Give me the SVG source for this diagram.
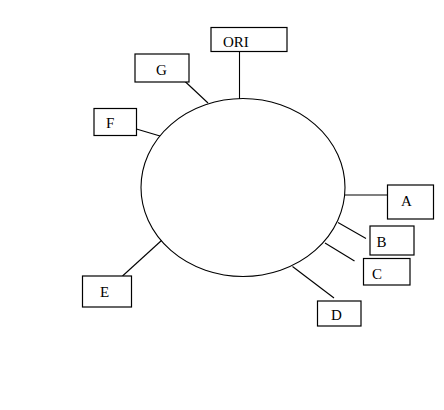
<svg xmlns="http://www.w3.org/2000/svg" width="444" height="410" viewBox="0 0 444 410">
<style>
rect.box{fill:#fff;stroke:#000;stroke-width:1.2}
text{font-family:"Liberation Serif","Times New Roman",serif;font-size:15px;fill:#000}
line,ellipse{stroke:#000;stroke-width:1.1;fill:none}
</style>
<rect width="444" height="410" fill="#fff"/>
<g id="connectors">
<line x1="239.5" y1="51" x2="239.5" y2="99"/>
<line x1="184" y1="80.5" x2="208" y2="103"/>
<line x1="133" y1="128" x2="160" y2="136"/>
<line x1="345" y1="195" x2="387" y2="195"/>
<line x1="338" y1="222.5" x2="366" y2="238.5"/>
<line x1="325" y1="243" x2="354.5" y2="261"/>
<line x1="292.5" y1="266.5" x2="334" y2="298"/>
<line x1="122.5" y1="276" x2="161.5" y2="240.5"/>
</g>
<g id="circle"><ellipse cx="243" cy="187.5" rx="102" ry="89"/></g>
<g id="ORI"><rect class="box" x="211" y="27.5" width="76" height="24"/><text x="223" y="47">ORI</text></g>
<g id="G"><rect class="box" x="135" y="54" width="54" height="28"/><text x="156" y="75">G</text></g>
<g id="F"><rect class="box" x="94" y="108.5" width="42.5" height="27"/><text x="106" y="128">F</text></g>
<g id="A"><rect class="box" x="387.5" y="185" width="46" height="34"/><text x="401" y="206">A</text></g>
<g id="B"><rect class="box" x="370" y="226" width="44" height="29"/><text x="376.5" y="247">B</text></g>
<g id="C"><rect class="box" x="363.5" y="258.5" width="46.5" height="26.5"/><text x="372" y="279">C</text></g>
<g id="D"><rect class="box" x="317.5" y="301" width="43.5" height="25"/><text x="331" y="320">D</text></g>
<g id="E"><rect class="box" x="82.5" y="276" width="49" height="31"/><text x="100" y="297">E</text></g>
</svg>
